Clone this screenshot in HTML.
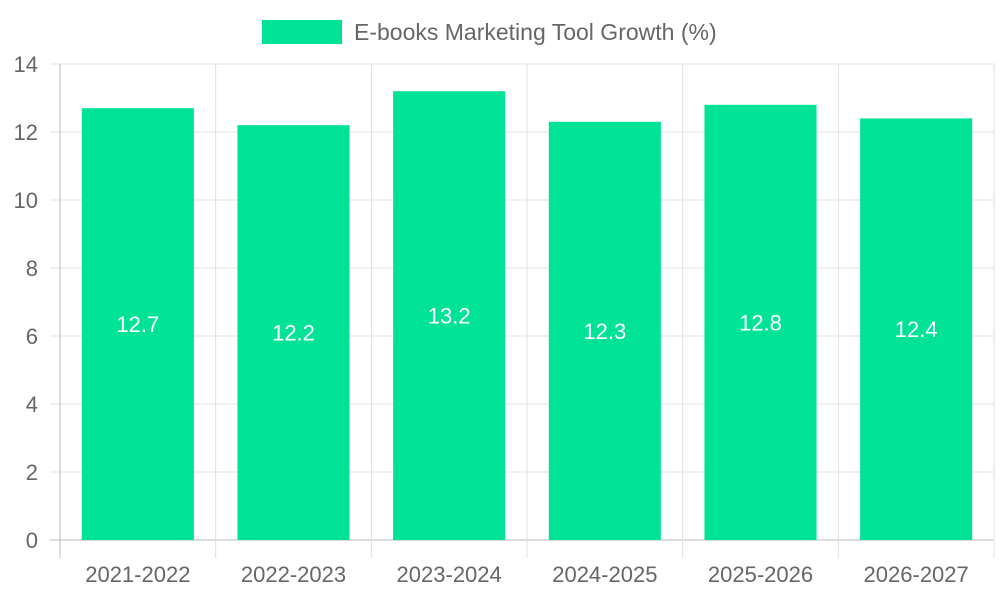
<!DOCTYPE html>
<html><head><meta charset="utf-8"><style>
body{margin:0;background:#fff;}
svg{display:block;font-family:"Liberation Sans",sans-serif;}
</style></head><body>
<svg id="chart" width="1000" height="600">
<g id="grid"></g><g id="bars"></g><g id="labels"></g>
<g>
<rect x="262" y="20" width="80" height="24" fill="#00e396"/>
<text x="354" y="40" font-size="23" fill="#666">E-books Marketing Tool Growth (%)</text>
</g>
</svg>
<script>
const categories=["2021-2022","2022-2023","2023-2024","2024-2025","2025-2026","2026-2027"];
const values=[12.7,12.2,13.2,12.3,12.8,12.4];
const yTicks=[0,2,4,6,8,10,12,14];
const NS="http://www.w3.org/2000/svg";
const L=60,R=994,T=64,B=540,yMax=14;
const y=v=>B-(v/yMax)*(B-T);
const bw=(R-L)/categories.length;
const xc=i=>L+bw*(i+0.5);
function mk(t,a,p){const e=document.createElementNS(NS,t);for(const k in a)e.setAttribute(k,a[k]);p.appendChild(e);return e;}
const g=document.getElementById('grid'),bg=document.getElementById('bars'),lg=document.getElementById('labels');
yTicks.forEach(t=>{
const l=mk('line',{x1:50,x2:R,y1:y(t),y2:y(t),stroke:t===0?'#bbb':'#e0e0e0','stroke-width':1},g);


const tx=mk('text',{x:38,y:y(t)+8,'text-anchor':'end','font-size':22,fill:'#666'},g);
tx.textContent=t;


});
for(let i=0;i<=categories.length;i++){
const x=L+bw*i;
const l=mk('line',{x1:x,x2:x,y1:T,y2:558,stroke:i===0?'#bbb':'#e0e0e0','stroke-width':1},g);


}
categories.forEach((c,i)=>{
const w=bw*0.72;
const r=mk('rect',{x:xc(i)-w/2,y:y(values[i]),width:w,height:B-y(values[i]),fill:'#00e396'},bg);


const v=mk('text',{x:xc(i),y:(y(values[i])+B)/2+8,'text-anchor':'middle','font-size':22,fill:'#fff'},lg);
v.textContent=values[i];


const t=mk('text',{x:xc(i),y:582,'text-anchor':'middle','font-size':22,fill:'#666'},lg);
t.textContent=c;


});
</script>
</body></html>
